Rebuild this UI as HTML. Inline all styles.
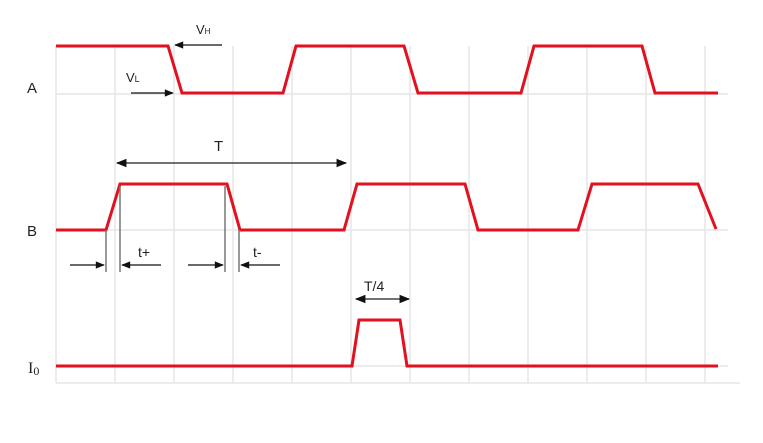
<!DOCTYPE html>
<html><head><style>body{margin:0;background:#fff}</style></head><body>
<svg width="763" height="438" xmlns="http://www.w3.org/2000/svg" font-family="Liberation Sans, sans-serif">
<defs>
<marker id="a" viewBox="0 0 10 10" refX="9" refY="5" markerWidth="8" markerHeight="7" orient="auto-start-reverse"><path d="M0,1 L10,5 L0,9z" fill="#111"/></marker>
</defs>
<g stroke="#e6e6e6" stroke-width="1.5">
<line x1="56" y1="46" x2="56" y2="383"/><line x1="115" y1="46" x2="115" y2="383"/><line x1="174" y1="46" x2="174" y2="383"/><line x1="233" y1="46" x2="233" y2="383"/><line x1="292" y1="46" x2="292" y2="383"/><line x1="351" y1="46" x2="351" y2="383"/><line x1="410" y1="46" x2="410" y2="383"/><line x1="469" y1="46" x2="469" y2="383"/><line x1="528" y1="46" x2="528" y2="383"/><line x1="587" y1="46" x2="587" y2="383"/><line x1="646" y1="46" x2="646" y2="383"/><line x1="705" y1="46" x2="705" y2="383"/>
<line x1="56" y1="94" x2="728" y2="94"/><line x1="56" y1="230" x2="728" y2="230"/><line x1="56" y1="366" x2="728" y2="366"/><line x1="56" y1="383" x2="740" y2="383"/>
</g>
<g fill="none" stroke="#e3101f" stroke-width="3" stroke-linejoin="miter">
<polyline points="56,46 168,46 182,93 283,93 296,46 404,46 418,93 521,93 534,46 642,46 655,93 718,93"/>
<polyline points="56,230 106,230 120,184 227,184 240,230 344,230 357,184 465,184 478,230 578,230 592,184 698,184 716,229"/>
<polyline points="56,366 352,366 359,320 400,320 407,366 718,366"/>
</g>
<g stroke="#777" stroke-width="1.5">
<line x1="106" y1="230" x2="106" y2="272"/><line x1="120" y1="186" x2="120" y2="272"/>
<line x1="225" y1="186" x2="225" y2="272"/><line x1="239" y1="230" x2="239" y2="272"/>
</g>
<g stroke="#111" stroke-width="1.3" marker-end="url(#a)">
<line x1="70" y1="265" x2="104" y2="265"/><line x1="161" y1="265" x2="122" y2="265"/>
<line x1="188" y1="265" x2="223" y2="265"/><line x1="280" y1="265" x2="241" y2="265"/>
<line x1="222" y1="45" x2="175" y2="45"/><line x1="131" y1="93" x2="173" y2="93"/>
</g>
<g stroke="#444" stroke-width="1.5">
<line x1="117" y1="163" x2="346" y2="163" marker-end="url(#a)" marker-start="url(#a)"/>
<line x1="356" y1="299" x2="409" y2="299" marker-end="url(#a)" marker-start="url(#a)"/>
</g>
<g fill="#222" font-size="15">
<text x="27" y="93">A</text><text x="27" y="236">B</text>
<text x="28" y="373" font-family="Liberation Serif, serif" font-size="16">I<tspan font-size="12" dy="2">0</tspan></text>
<text x="214" y="151">T</text>
<text x="364" y="291" font-size="14">T/4</text>
<text x="138" y="257" font-size="14">t+</text><text x="253" y="257" font-size="14">t-</text>
<text x="196" y="34" font-size="13">V<tspan font-size="8">H</tspan></text>
<text x="126" y="82" font-size="13">V<tspan font-size="9">L</tspan></text>
</g>
</svg>
</body></html>
